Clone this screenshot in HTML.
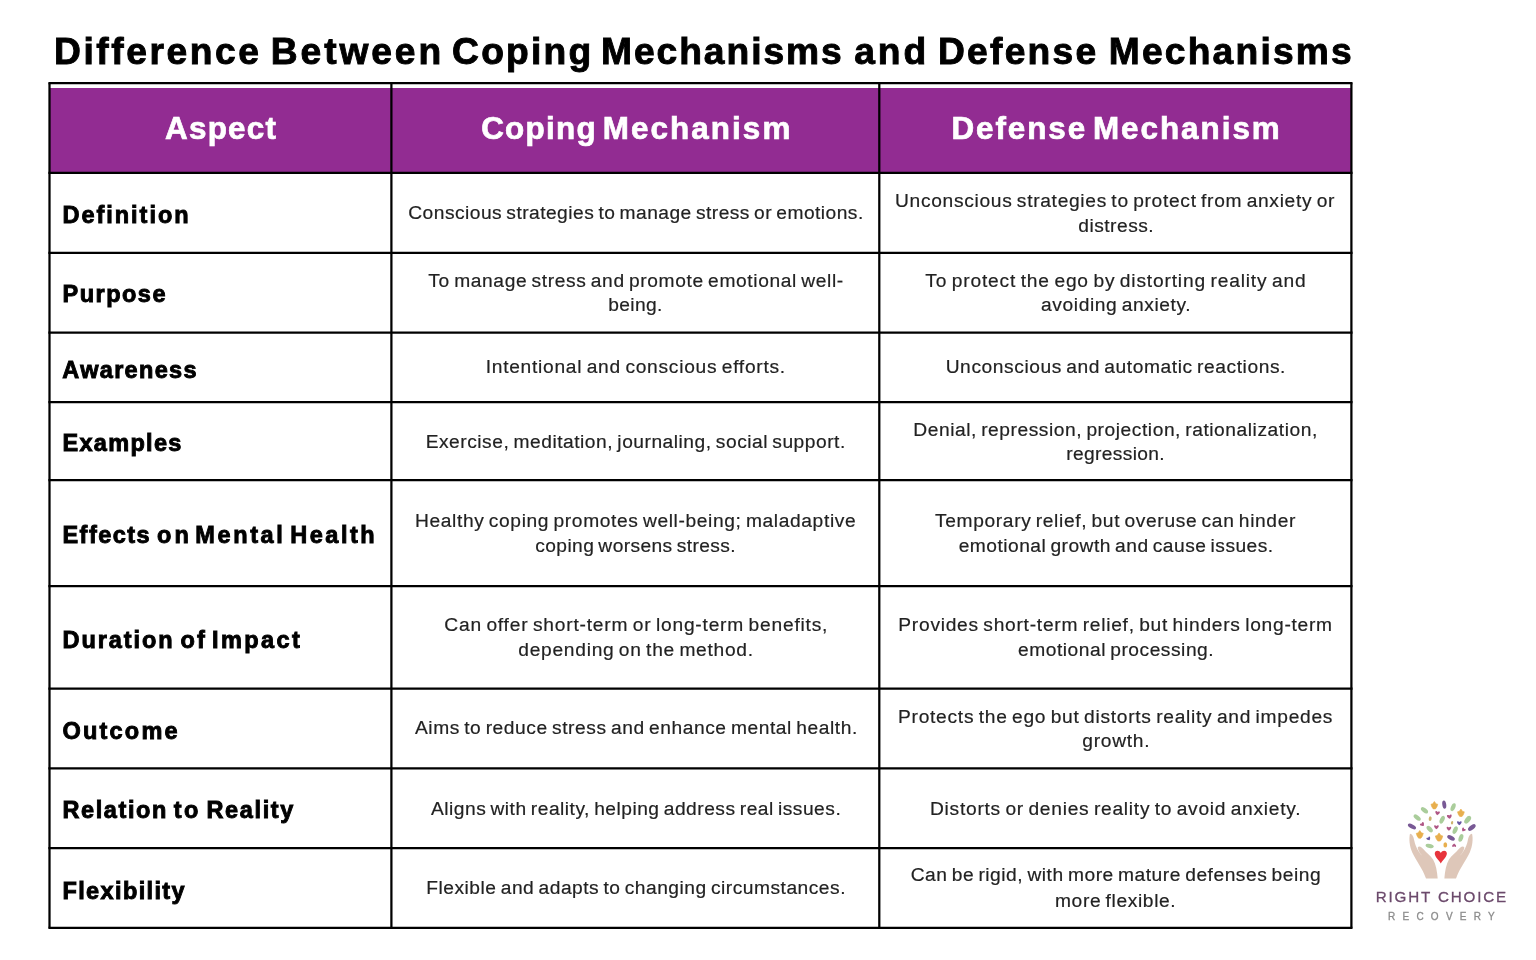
<!DOCTYPE html>
<html lang="en">
<head>
<meta charset="utf-8">
<title>Difference Between Coping Mechanisms and Defense Mechanisms</title>
<style>
*{margin:0;padding:0;box-sizing:border-box}
html,body{width:1536px;height:960px;background:#fff;overflow:hidden}
body{position:relative;font-family:"Liberation Sans",Arial,sans-serif}
#page{position:absolute;left:0;top:0;width:1536px;height:960px;will-change:transform}
h1,.thead,.th-cell,.row,.cell,.label,.brand{font:inherit;display:block;position:static}
.t{position:absolute;white-space:pre}
.title{font-size:37.2px;font-weight:700;color:#000;line-height:42px;word-spacing:-1.5px;-webkit-text-stroke:0.9px #000}
.th{font-size:31.4px;font-weight:700;color:#fff;line-height:35px;word-spacing:-1.0px;-webkit-text-stroke:0.7px #fff}
.lb{font-size:23.5px;font-weight:700;color:#000;line-height:26px;word-spacing:-1.0px;-webkit-text-stroke:0.9px #000}
.bd{font-size:19.2px;font-weight:400;color:#222;line-height:21px;word-spacing:-1.6px;-webkit-text-stroke:0.2px #222}
.lg1{font-size:15.2px;font-weight:400;color:#6c4a6c;line-height:17px;word-spacing:0px;-webkit-text-stroke:0.3px #6c4a6c}
.lg2{font-size:10px;font-weight:400;color:#8c8c8c;line-height:11px;word-spacing:0px;-webkit-text-stroke:0.3px #8c8c8c}
.headbg{position:absolute;left:49.5px;top:87.6px;width:1301.9px;height:85.2px;background:#922c92}
.grid{position:absolute;left:0;top:0}
.logo{position:absolute;left:1400px;top:790px}
</style>
</head>
<body>
<div id="page">
<h1><span class="t title" style="left:54px;top:30px;letter-spacing:2.55px">Difference</span> <span class="t title" style="left:270.8px;top:30px;letter-spacing:2.9px">Between</span> <span class="t title" style="left:452.1px;top:30px;letter-spacing:2.19px">Coping</span> <span class="t title" style="left:601.1px;top:30px;letter-spacing:1.93px">Mechanisms</span> <span class="t title" style="left:854.2px;top:30px;letter-spacing:3px">and</span> <span class="t title" style="left:937.9px;top:30px;letter-spacing:2.28px">Defense</span> <span class="t title" style="left:1108.8px;top:30px;letter-spacing:2.19px">Mechanisms</span></h1>
<div class="headbg"></div>
<svg class="grid" width="1536" height="960" viewBox="0 0 1536 960" stroke="#000" stroke-width="2.25" fill="none">
<line x1="48.38" y1="83.2" x2="1352.53" y2="83.2"/>
<line x1="48.38" y1="172.8" x2="1352.53" y2="172.8"/>
<line x1="48.38" y1="252.8" x2="1352.53" y2="252.8"/>
<line x1="48.38" y1="332.5" x2="1352.53" y2="332.5"/>
<line x1="48.38" y1="402.2" x2="1352.53" y2="402.2"/>
<line x1="48.38" y1="480" x2="1352.53" y2="480"/>
<line x1="48.38" y1="586.1" x2="1352.53" y2="586.1"/>
<line x1="48.38" y1="688.5" x2="1352.53" y2="688.5"/>
<line x1="48.38" y1="768.3" x2="1352.53" y2="768.3"/>
<line x1="48.38" y1="848" x2="1352.53" y2="848"/>
<line x1="48.38" y1="927.8" x2="1352.53" y2="927.8"/>
<line x1="49.5" y1="83.2" x2="49.5" y2="927.8"/>
<line x1="391.4" y1="83.2" x2="391.4" y2="927.8"/>
<line x1="879.3" y1="83.2" x2="879.3" y2="927.8"/>
<line x1="1351.4" y1="83.2" x2="1351.4" y2="927.8"/>
</svg>
<div class="thead">
  <div class="th-cell"><span class="t th" style="left:165px;top:111px;letter-spacing:1.26px">Aspect</span></div>
  <div class="th-cell"><span class="t th" style="left:481.2px;top:111px;letter-spacing:1.26px">Coping</span> <span class="t th" style="left:602.7px;top:111px;letter-spacing:2.08px">Mechanism</span></div>
  <div class="th-cell"><span class="t th" style="left:951.4px;top:111px;letter-spacing:1.94px">Defense</span> <span class="t th" style="left:1093px;top:111px;letter-spacing:1.97px">Mechanism</span></div>
</div>
<div class="row">
  <div class="label"><span class="t lb" style="left:62.5px;top:202px;letter-spacing:1.97px">Definition</span></div>
  <div class="cell"><span class="t bd" style="left:408.3px;top:202px;letter-spacing:0.47px">Conscious strategies to manage stress or emotions.</span></div>
  <div class="cell"><span class="t bd" style="left:895px;top:190px;letter-spacing:0.69px">Unconscious strategies to protect from anxiety or</span> <span class="t bd" style="left:1078.3px;top:215px;letter-spacing:0.49px">distress.</span></div>
</div>
<div class="row">
  <div class="label"><span class="t lb" style="left:62.5px;top:281px;letter-spacing:1.49px">Purpose</span></div>
  <div class="cell"><span class="t bd" style="left:428.3px;top:270px;letter-spacing:0.62px">To manage stress and promote emotional well-</span> <span class="t bd" style="left:608.3px;top:294px;letter-spacing:0.35px">being.</span></div>
  <div class="cell"><span class="t bd" style="left:925.3px;top:270px;letter-spacing:0.82px">To protect the ego by distorting reality and</span> <span class="t bd" style="left:1041px;top:294px;letter-spacing:0.61px">avoiding anxiety.</span></div>
</div>
<div class="row">
  <div class="label"><span class="t lb" style="left:62.3px;top:357px;letter-spacing:1.32px">Awareness</span></div>
  <div class="cell"><span class="t bd" style="left:485.7px;top:356px;letter-spacing:0.73px">Intentional and conscious efforts.</span></div>
  <div class="cell"><span class="t bd" style="left:945.7px;top:356px;letter-spacing:0.58px">Unconscious and automatic reactions.</span></div>
</div>
<div class="row">
  <div class="label"><span class="t lb" style="left:62.5px;top:430px;letter-spacing:1.31px">Examples</span></div>
  <div class="cell"><span class="t bd" style="left:425.7px;top:431px;letter-spacing:0.52px">Exercise, meditation, journaling, social support.</span></div>
  <div class="cell"><span class="t bd" style="left:913.3px;top:419px;letter-spacing:0.55px">Denial, repression, projection, rationalization,</span> <span class="t bd" style="left:1066.3px;top:443px;letter-spacing:0.34px">regression.</span></div>
</div>
<div class="row">
  <div class="label"><span class="t lb" style="left:62.5px;top:522px;letter-spacing:1.45px">Effects</span> <span class="t lb" style="left:157px;top:522px;letter-spacing:3.15px">on</span> <span class="t lb" style="left:195.3px;top:522px;letter-spacing:2.62px">Mental</span> <span class="t lb" style="left:290.3px;top:522px;letter-spacing:2.51px">Health</span></div>
  <div class="cell"><span class="t bd" style="left:415px;top:510px;letter-spacing:0.63px">Healthy coping promotes well-being; maladaptive</span> <span class="t bd" style="left:535.3px;top:535px;letter-spacing:0.4px">coping worsens stress.</span></div>
  <div class="cell"><span class="t bd" style="left:935px;top:510px;letter-spacing:0.64px">Temporary relief, but overuse can hinder</span> <span class="t bd" style="left:958.7px;top:535px;letter-spacing:0.48px">emotional growth and cause issues.</span></div>
</div>
<div class="row">
  <div class="label"><span class="t lb" style="left:62.5px;top:627px;letter-spacing:1.94px">Duration</span> <span class="t lb" style="left:180.5px;top:627px;letter-spacing:2.15px">of</span> <span class="t lb" style="left:212px;top:627px;letter-spacing:2.42px">Impact</span></div>
  <div class="cell"><span class="t bd" style="left:444.3px;top:614px;letter-spacing:0.79px">Can offer short-term or long-term benefits,</span> <span class="t bd" style="left:518.3px;top:639px;letter-spacing:0.72px">depending on the method.</span></div>
  <div class="cell"><span class="t bd" style="left:898.3px;top:614px;letter-spacing:0.74px">Provides short-term relief, but hinders long-term</span> <span class="t bd" style="left:1018px;top:639px;letter-spacing:0.53px">emotional processing.</span></div>
</div>
<div class="row">
  <div class="label"><span class="t lb" style="left:62.5px;top:718px;letter-spacing:2.2px">Outcome</span></div>
  <div class="cell"><span class="t bd" style="left:415px;top:717px;letter-spacing:0.57px">Aims to reduce stress and enhance mental health.</span></div>
  <div class="cell"><span class="t bd" style="left:898px;top:706px;letter-spacing:0.73px">Protects the ego but distorts reality and impedes</span> <span class="t bd" style="left:1082.3px;top:730px;letter-spacing:0.73px">growth.</span></div>
</div>
<div class="row">
  <div class="label"><span class="t lb" style="left:62.5px;top:797px;letter-spacing:1.59px">Relation</span> <span class="t lb" style="left:173.8px;top:797px;letter-spacing:2.37px">to</span> <span class="t lb" style="left:206.5px;top:797px;letter-spacing:1.63px">Reality</span></div>
  <div class="cell"><span class="t bd" style="left:431px;top:798px;letter-spacing:0.5px">Aligns with reality, helping address real issues.</span></div>
  <div class="cell"><span class="t bd" style="left:930px;top:798px;letter-spacing:0.74px">Distorts or denies reality to avoid anxiety.</span></div>
</div>
<div class="row">
  <div class="label"><span class="t lb" style="left:62.5px;top:878px;letter-spacing:1.37px">Flexibility</span></div>
  <div class="cell"><span class="t bd" style="left:426.3px;top:877px;letter-spacing:0.51px">Flexible and adapts to changing circumstances.</span></div>
  <div class="cell"><span class="t bd" style="left:910.7px;top:864px;letter-spacing:0.53px">Can be rigid, with more mature defenses being</span> <span class="t bd" style="left:1055px;top:890px;letter-spacing:0.63px">more flexible.</span></div>
</div>
<div class="brand">
<svg class="logo" width="96" height="100" viewBox="0 0 922 960" opacity="0.92"><path d="M96 420 C84 470 92 540 118 600 C150 672 215 750 250 850 L362 850 C356 780 345 715 318 668 C290 625 250 600 228 572 C212 548 186 532 172 548 C166 566 186 600 210 630 C180 600 150 545 138 490 C132 460 122 420 96 420Z" fill="#dcc3b3"/><path d="M96 420 C84 470 92 540 118 600 C150 672 215 750 250 850 L362 850 C356 780 345 715 318 668 C290 625 250 600 228 572 C212 548 186 532 172 548 C166 566 186 600 210 630 C180 600 150 545 138 490 C132 460 122 420 96 420Z" fill="#dcc3b3" transform="translate(788 0) scale(-1 1)"/><path d="M392 706 C372 672 330 640 334 606 C338 576 378 574 392 604 C406 574 446 576 450 606 C454 640 412 672 392 706Z" fill="#e5232c"/><path d="M330 110.15 L347.05 133.4 L362.55 136.5 L354.8 161.3 L340.85 181.45 L319.15 181.45 L305.2 161.3 L297.45 136.5 L312.95 133.4Z" fill="#e6a93f" stroke="#e6a93f" stroke-width="6" stroke-linejoin="round"/><ellipse cx="425" cy="140" rx="19" ry="40" fill="#6d4b8c" transform="rotate(-8 425 140)"/><ellipse cx="510" cy="165" rx="21" ry="40" fill="#a3c993" transform="rotate(22 510 165)"/><ellipse cx="235" cy="195" rx="21" ry="40" fill="#a3c993" transform="rotate(-52 235 195)"/><path d="M585 183.15 L602.05 206.4 L617.55 209.5 L609.8 234.3 L595.85 254.45 L574.15 254.45 L560.2 234.3 L552.45 209.5 L567.95 206.4Z" fill="#e6a93f" stroke="#e6a93f" stroke-width="6" stroke-linejoin="round"/><path d="M0 20.7 C-36.800000000000004 -4.6000000000000005 -20.7 -29.900000000000002 0 -10.35 C20.7 -29.900000000000002 36.800000000000004 -4.6000000000000005 0 20.7Z" fill="#a9487b" transform="translate(360 222) rotate(10)"/><path d="M0 21.6 C-38.400000000000006 -4.800000000000001 -21.6 -31.200000000000003 0 -10.8 C21.6 -31.200000000000003 38.400000000000006 -4.800000000000001 0 21.6Z" fill="#a9487b" transform="translate(475 255) rotate(-10)"/><ellipse cx="165" cy="265" rx="21" ry="40" fill="#a3c993" transform="rotate(-52 165 265)"/><ellipse cx="290" cy="275" rx="14" ry="22" fill="#c9ad62" transform="rotate(10 290 275)"/><ellipse cx="405" cy="285" rx="21" ry="40" fill="#a3c993" transform="rotate(25 405 285)"/><ellipse cx="650" cy="285" rx="24" ry="43" fill="#a3c993" transform="rotate(38 650 285)"/><path d="M0 20.7 C-36.800000000000004 -4.6000000000000005 -20.7 -29.900000000000002 0 -10.35 C20.7 -29.900000000000002 36.800000000000004 -4.6000000000000005 0 20.7Z" fill="#5b4a9c" transform="translate(570 317) rotate(0)"/><ellipse cx="500" cy="315" rx="11" ry="17" fill="#c9ad62" transform="rotate(10 500 315)"/><path d="M0 19.8 C-35.2 -4.4 -19.8 -28.6 0 -9.9 C19.8 -28.6 35.2 -4.4 0 19.8Z" fill="#a9487b" transform="translate(215 330) rotate(-40)"/><ellipse cx="115" cy="350" rx="20" ry="43" fill="#6d4b8c" transform="rotate(-62 115 350)"/><path d="M0 20.7 C-36.800000000000004 -4.6000000000000005 -20.7 -29.900000000000002 0 -10.35 C20.7 -29.900000000000002 36.800000000000004 -4.6000000000000005 0 20.7Z" fill="#a9487b" transform="translate(350 355) rotate(0)"/><ellipse cx="285" cy="375" rx="21" ry="38" fill="#a3c993" transform="rotate(-42 285 375)"/><path d="M0 20.7 C-36.800000000000004 -4.6000000000000005 -20.7 -29.900000000000002 0 -10.35 C20.7 -29.900000000000002 36.800000000000004 -4.6000000000000005 0 20.7Z" fill="#a9487b" transform="translate(470 370) rotate(0)"/><ellipse cx="530" cy="385" rx="21" ry="38" fill="#a3c993" transform="rotate(25 530 385)"/><path d="M0 18.0 C-32.0 -4.0 -18.0 -26.0 0 -9.0 C18.0 -26.0 32.0 -4.0 0 18.0Z" fill="#a9487b" transform="translate(610 382) rotate(40)"/><ellipse cx="690" cy="360" rx="21" ry="43" fill="#6d4b8c" transform="rotate(52 690 360)"/><path d="M190 388.8 L207.6 412.8 L223.6 416.0 L215.6 441.6 L201.2 462.4 L178.8 462.4 L164.4 441.6 L156.4 416.0 L172.4 412.8Z" fill="#e6a93f" stroke="#e6a93f" stroke-width="6" stroke-linejoin="round"/><path d="M0 18.0 C-32.0 -4.0 -18.0 -26.0 0 -9.0 C18.0 -26.0 32.0 -4.0 0 18.0Z" fill="#5b4a9c" transform="translate(275 467) rotate(-30)"/><path d="M375 412.1 L393.7 437.6 L410.7 441.0 L402.2 468.2 L386.9 490.3 L363.1 490.3 L347.8 468.2 L339.3 441.0 L356.3 437.6Z" fill="#e6a93f" stroke="#e6a93f" stroke-width="6" stroke-linejoin="round"/><ellipse cx="490" cy="460" rx="20" ry="40" fill="#6d4b8c" transform="rotate(-62 490 460)"/><ellipse cx="585" cy="460" rx="21" ry="38" fill="#a3c993" transform="rotate(20 585 460)"/><ellipse cx="285" cy="537" rx="20" ry="40" fill="#a3c993" transform="rotate(-78 285 537)"/><ellipse cx="435" cy="527" rx="18" ry="25" fill="#e6a93f" transform="rotate(0 435 527)"/><path d="M0 18.0 C-32.0 -4.0 -18.0 -26.0 0 -9.0 C18.0 -26.0 32.0 -4.0 0 18.0Z" fill="#a9487b" transform="translate(520 532) rotate(180)"/></svg>
  <span class="t lg1" style="left:1375.7px;top:888px;letter-spacing:1.84px">RIGHT CHOICE</span>
  <span class="t lg2" style="left:1388px;top:911px;letter-spacing:7.25px">RECOVERY</span>
</div>
</div>
</body>
</html>
